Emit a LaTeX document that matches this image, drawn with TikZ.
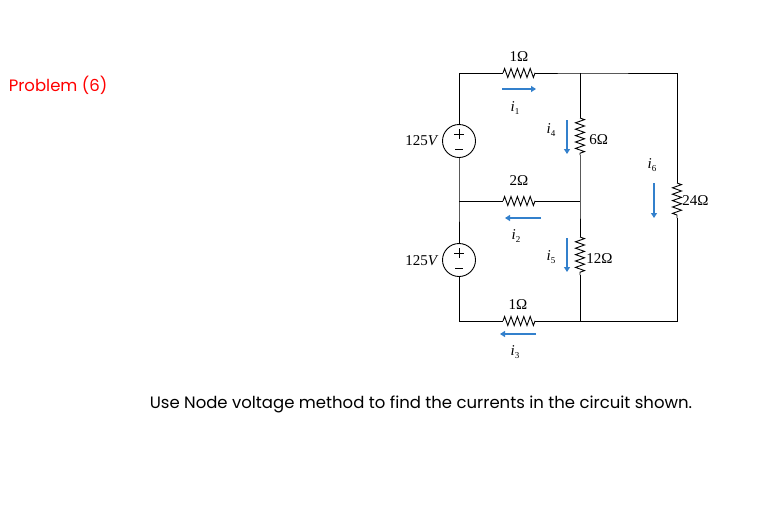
\documentclass[tikz,border=0pt]{standalone}
\usepackage{fontspec}
\setmainfont{Liberation Serif}
\setsansfont{Poppins}
\usetikzlibrary{decorations.pathmorphing,arrows.meta}
\newcommand{\cu}[1]{\textit{i}\raisebox{-0.35ex}{\fontsize{9}{9}\selectfont #1}}
\begin{document}
\begin{tikzpicture}[x=1pt,y=-1pt,line width=0.9pt,
  res/.style={decorate,decoration={zigzag,segment length=6.4pt,amplitude=4.5pt}},
  cur/.style={draw=blue!50!cyan!60!gray,line width=1.6pt,-{Triangle[length=5pt,width=6pt]}},
  lbl/.style={font=\fontsize{15}{17}\selectfont,inner sep=1pt},
  src/.style={circle,draw,minimum size=33pt,inner sep=0pt}]
\useasboundingbox (0,0) rectangle (772,517);
% corners
\coordinate (TL) at (459,73);  \coordinate (TM) at (580,73);  \coordinate (TR) at (677,73);
\coordinate (ML) at (459,201); \coordinate (MM) at (580,201);
\coordinate (BL) at (459,321); \coordinate (BM) at (580,321); \coordinate (BR) at (677,321);
% sources
\node[src] (V1) at (459,141) {};
\node[src] (V2) at (459,260) {};
\foreach \v in {V1,V2}{
  \draw[line width=0.8pt] (\v.center) ++(-5,-7) -- ++(10,0) ++(-5,-5) -- ++(0,10);
  \draw[line width=0.8pt] (\v.center) ++(-4,8) -- ++(8,0);}
\node[lbl,anchor=east] at (440,141) {125\textit{V}};
\node[lbl,anchor=east] at (440,261) {125\textit{V}};
% wires and resistors
\draw (V1.north) -- (TL) -- (503,73);
\draw[res] (503,73) -- (535,73);
\draw (535,73) -- (TM) -- (TR) -- (677,183);
\draw[res] (677,183) -- (677,218);
\draw (677,218) -- (BR) -- (BM);
\draw (V1.south) -- (ML) -- (V2.north);
\draw (ML) -- (503,201);
\draw[res] (503,201) -- (535,201);
\draw (535,201) -- (MM);
\draw (V2.south) -- (BL) -- (503,321);
\draw[res] (503,321) -- (535,321);
\draw (535,321) -- (BM);
\draw (TM) -- (580,118);
\draw[res] (580,118) -- (580,155);
\draw (580,155) -- (MM) -- (580,237);
\draw[res] (580,237) -- (580,275);
\draw (580,275) -- (BM);
% resistor labels
\node[lbl] at (519,57) {1Ω};
\node[lbl] at (519,181) {2Ω};
\node[lbl] at (518,305) {1Ω};
\node[lbl,anchor=west] at (588,140) {6Ω};
\node[lbl,anchor=west] at (585,259) {12Ω};
\node[lbl,anchor=west] at (681,201) {24Ω};
% currents
\draw[cur] (502,89) -- (536,89);   \node[lbl] at (515,108) {\cu{1}};
\draw[cur] (541,218) -- (505,218); \node[lbl] at (516,236) {\cu{2}};
\draw[cur] (536,334) -- (500,334); \node[lbl] at (515,352) {\cu{3}};
\draw[cur] (567,120) -- (567,154); \node[lbl] at (551,130) {\cu{4}};
\draw[cur] (567,238) -- (567,272); \node[lbl] at (551,257) {\cu{5}};
\draw[cur] (654,183) -- (654,218); \node[lbl] at (652,165) {\cu{6}};
% text
\node[font=\sffamily\fontsize{16.5}{18}\selectfont,text=red,anchor=west] at (5,85) {Problem (6)};
\node[font=\sffamily\fontsize{16.5}{18}\selectfont,anchor=west] at (146,404) {Use Node voltage method to find the currents in the circuit shown.};
\end{tikzpicture}
\end{document}
